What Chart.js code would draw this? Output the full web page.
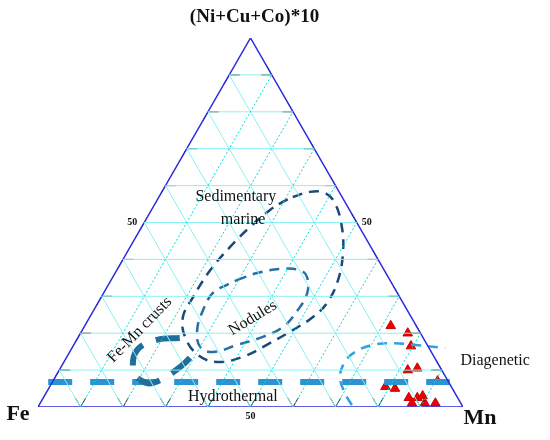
<!DOCTYPE html>
<html><head><meta charset="utf-8">
<script src="https://cdn.jsdelivr.net/npm/chart.js"></script>
<style>html,body{margin:0;padding:0;background:#fff}#w{width:550px;height:440px}</style>
</head><body><div id="w"><canvas id="c"></canvas></div>
<script>
// Ternary values: [Mn %, (Ni+Cu+Co)*10 %]; Fe = 100 - Mn - top
const samples = [[72,22],[77,20],[79.5,16.5],[82,10],[84,10.5],[81.5,5],[79,5.5],[86,2.5],[88,2.5],[89,3],[87.5,1],[90.5,1],[93,1],[90.5,7]];
const gridLevels = [10,20,30,40,50,60,70,80,90];
// Field outlines (Mn %, top %)
const sedimentary = [[31.5,56.9],[34.8,58.3],[38.5,58],[42.2,55.3],[47.1,48.8],[50.9,41.7],[53.4,34.4],[53.9,28.2],[52.5,24.4],[49.6,20.9],[45.9,17.3],[41.4,13.6],[36,12.2],[30.6,14.1],[25.1,19],[21.9,24.4],[21.6,29.8],[22,37.1],[23.5,43.4],[25.5,48.8],[27.9,53.4],[29.8,55.6]];
const nodules = [[29.6,34.4],[33.4,36.3],[38.2,37.4],[43.1,37.1],[45.7,35.2],[47.9,30.9],[48,26.3],[46.8,21.7],[43.4,19],[38.4,16.8],[33.7,14.9],[30,16.3],[27,20.9],[25.7,26.3],[25.7,30.9],[27.9,33.1]];
const crusts = [[24,18.7],[18.9,18.2],[15.6,15.4],[17.4,10],[20.4,7.3],[23.8,6.5],[28,10.8],[29.7,15.4]];
const hydrothermal = [[-1,6.8],[93.5,6.8]];
const diagenetic = [[73.6,0.5],[70.3,3.8],[67,8.1],[66.1,12.2],[67.1,14.9],[70.2,16.8],[75.3,17.3],[80.3,16.8],[87.8,16]];

const toXY = ([m,t]) => ({x:(m + t/2)/100, y:t/100});
const pts = a => a.map(toXY);
const ds = [];
gridLevels.forEach(v=>{
  ds.push({data:pts([[0,v],[100-v,v]]),borderColor:'#8af2f2',borderWidth:1});
  ds.push({data:pts([[v,0],[v,100-v]]),borderColor:'#00d8d8',borderWidth:1,borderDash:[2,2]});
  ds.push({data:pts([[0,100-v],[100-v,0]]),borderColor:'#8af2f2',borderWidth:1});
});
ds.push({data:pts([[0,0],[100,0],[0,100],[0,0]]),borderColor:'#2a2ae0',borderWidth:1.5});
const tk=2.5;
gridLevels.forEach(v=>{
  ds.push({data:pts([[v-tk,tk],[v,0],[v,tk]]),borderColor:'#222',borderWidth:1});
  ds.push({data:pts([[tk,v],[0,v],[0,v-tk]]),borderColor:'#222',borderWidth:1});
  ds.push({data:pts([[100-v-tk,v],[100-v,v],[100-v-tk,v+tk]]),borderColor:'#222',borderWidth:1});
});
const loop=a=>pts(a.concat([a[0]]));
ds.push({data:loop(sedimentary),borderColor:'#1a4a7a',borderWidth:2.5,borderDash:[10,7],tension:0.4});
ds.push({data:loop(nodules),borderColor:'#2a6ea3',borderWidth:2.5,borderDash:[10,7],tension:0.4});
ds.push({data:pts(crusts),borderColor:'#1f6e9b',borderWidth:6,borderDash:[24,14],tension:0.4});
ds.push({data:pts(diagenetic),borderColor:'#32a2df',borderWidth:2.5,borderDash:[10,7],tension:0.4});
ds.push({data:pts(hydrothermal),borderColor:'#2c92d2',borderWidth:6,borderDash:[24,18]});
ds.push({type:'scatter',showLine:false,data:pts(samples),pointStyle:'triangle',pointRadius:5.5,backgroundColor:'#ee0000',borderColor:'#cc0000',borderWidth:1});
ds.forEach(d=>{ if(d.showLine===undefined) d.showLine=true; if(d.pointRadius===undefined) d.pointRadius=0; d.fill=false;});

const labels = {
  id:'labels',
  afterDatasetsDraw(ch){
    const c=ch.ctx, X=ch.scales.x, Y=ch.scales.y;
    const P=(m,t)=>[X.getPixelForValue((m+t/2)/100),Y.getPixelForValue(t/100)];
    c.save(); c.fillStyle='#111'; c.textAlign='center'; c.textBaseline='middle';
    const txt=(s,x,y,f,r)=>{c.save();c.translate(x,y);if(r)c.rotate(r);c.font=f;c.fillText(s,0,0);c.restore();};
    const b='bold 19px "Liberation Serif"', s='16px "Liberation Serif"', n='bold 10px "Liberation Serif"';
    let [ax,ay]=P(0,100); txt('(Ni+Cu+Co)*10',ax+4,ay-21,b);
    let [fx,fy]=P(0,0); txt('Fe',fx-20,fy+7,'bold 22px "Liberation Serif"');
    let [mx,my]=P(100,0); txt('Mn',mx+17,my+11,'bold 22px "Liberation Serif"');
    let [bx,by]=P(50,0); txt('50',bx,by+9,n);
    let [lx,ly]=P(0,50); txt('50',lx-12,ly,n);
    let [rx,ry]=P(50,50); txt('50',rx+10,ry,n);
    let p=P(18.1,56.9); txt('Sedimentary',p[0],p[1],s);
    p=P(22.9,50.7); txt('marine',p[0],p[1],s);
    p=P(38.5,24.1); txt('Nodules',p[0],p[1],s,-0.55);
    p=P(13.5,20.9); txt('Fe-Mn crusts',p[0],p[1],s,-0.8);
    p=P(44.5,2.7); txt('Hydrothermal',p[0],p[1],s);
    p=P(101.3,12.5); txt('Diagenetic',p[0],p[1],s);
    c.restore();
  }
};

new Chart(document.getElementById('c'),{
  type:'scatter',
  data:{datasets:ds},
  options:{responsive:true,maintainAspectRatio:false,animation:false,
    layout:{padding:{left:38,right:87,top:38,bottom:33}},
    plugins:{legend:{display:false},tooltip:{enabled:false}},
    scales:{x:{type:'linear',min:0,max:1,display:false},y:{type:'linear',min:0,max:1,display:false}}
  },
  plugins:[labels]
});
</script></body></html>
